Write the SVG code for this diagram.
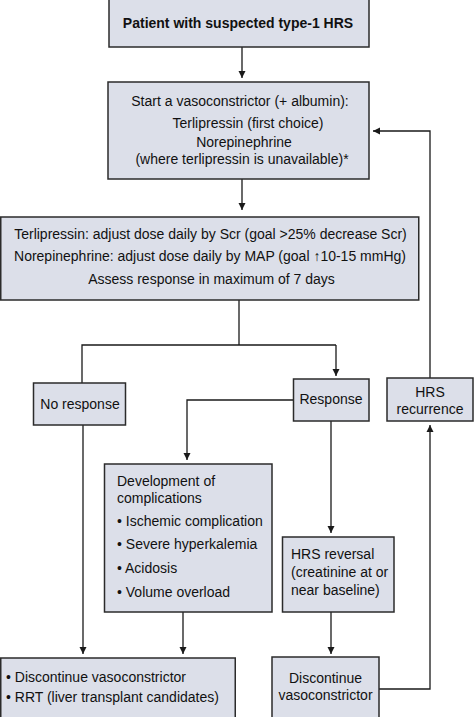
<svg xmlns="http://www.w3.org/2000/svg" width="474" height="717" viewBox="0 0 474 717">
<defs>
<marker id="ah" viewBox="0 0 10 10" refX="10" refY="5" markerWidth="7" markerHeight="9" markerUnits="userSpaceOnUse" orient="auto">
<path d="M0,0 L10,5 L0,10 Z" fill="#1a1a1a"/>
</marker>
<style>
.box{fill:#dcdfe9;stroke:#2b2b2b;stroke-width:1.5}
.t{font-family:"Liberation Sans",Arial,sans-serif;font-size:14px;fill:#111}
.c{text-anchor:middle}
.b{font-weight:bold}
.ln{fill:none;stroke:#1a1a1a;stroke-width:1.3}
.ar{marker-end:url(#ah)}
</style>
</defs>
<rect width="474" height="717" fill="#ffffff"/>
<g id="connectors">
<path class="ln ar" d="M242,47 V78"/>
<path class="ln ar" d="M242,179 V210"/>
<path class="ln" d="M239,300 V345"/>
<path class="ln" d="M82,383 V345 H336"/>
<path class="ln ar" d="M336,345 V376"/>
<path class="ln ar" d="M293,400 H187 V460"/>
<path class="ln ar" d="M331,421 V533"/>
<path class="ln ar" d="M83,425 V654"/>
<path class="ln ar" d="M183,612 V654"/>
<path class="ln ar" d="M331,612 V654"/>
<path class="ln ar" d="M379,689 H430 V425"/>
<path class="ln ar" d="M430,378 V131 H373"/>
</g>
<g id="n1">
<rect class="box" x="109" y="-1" width="260" height="48"/>
<text class="t c b" x="238" y="28">Patient with suspected type-1 HRS</text>
</g>
<g id="n2">
<rect class="box" x="108" y="82" width="261" height="97"/>
<text class="t c" x="240" y="106">Start a vasoconstrictor (+ albumin):</text>
<text class="t c" x="248" y="127.5">Terlipressin (first choice)</text>
<text class="t c" x="244" y="147">Norepinephrine</text>
<text class="t c" x="242" y="163.5">(where terlipressin is unavailable)*</text>
</g>
<g id="n3">
<rect class="box" x="0.75" y="217" width="418" height="83"/>
<text class="t c" x="210.5" y="239">Terlipressin: adjust dose daily by Scr (goal &gt;25% decrease Scr)</text>
<text class="t c" x="210" y="261">Norepinephrine: adjust dose daily by MAP (goal ↑10-15 mmHg)</text>
<text class="t c" x="211.5" y="284">Assess response in maximum of 7 days</text>
</g>
<g id="n4">
<rect class="box" x="33.5" y="383" width="92" height="42"/>
<text class="t c" x="80" y="409">No response</text>
</g>
<g id="n5">
<rect class="box" x="293.5" y="379" width="75.5" height="42"/>
<text class="t c" x="331" y="404">Response</text>
</g>
<g id="n6">
<rect class="box" x="387" y="378" width="86" height="43"/>
<text class="t c" x="430" y="397">HRS</text>
<text class="t c" x="430" y="413.5">recurrence</text>
</g>
<g id="n7">
<rect class="box" x="104.5" y="464" width="167.5" height="148"/>
<text class="t" x="117" y="485.5">Development of</text>
<text class="t" x="117" y="503">complications</text>
<text class="t" x="117" y="525.5">• Ischemic complication</text>
<text class="t" x="117" y="548.5">• Severe hyperkalemia</text>
<text class="t" x="117" y="573">• Acidosis</text>
<text class="t" x="117" y="596.5">• Volume overload</text>
</g>
<g id="n8">
<rect class="box" x="282.5" y="537" width="111.5" height="75"/>
<text class="t" x="291" y="558.5">HRS reversal</text>
<text class="t" x="291" y="576.5">(creatinine at or</text>
<text class="t" x="291" y="594.5">near baseline)</text>
</g>
<g id="n9">
<rect class="box" x="0.75" y="658" width="234.5" height="62"/>
<text class="t" x="6" y="681.5">• Discontinue vasoconstrictor</text>
<text class="t" x="6" y="701.5">• RRT (liver transplant candidates)</text>
</g>
<g id="n10">
<rect class="box" x="272" y="657" width="107" height="63"/>
<text class="t c" x="325.5" y="682.5">Discontinue</text>
<text class="t c" x="325.5" y="699.5">vasoconstrictor</text>
</g>
</svg>
